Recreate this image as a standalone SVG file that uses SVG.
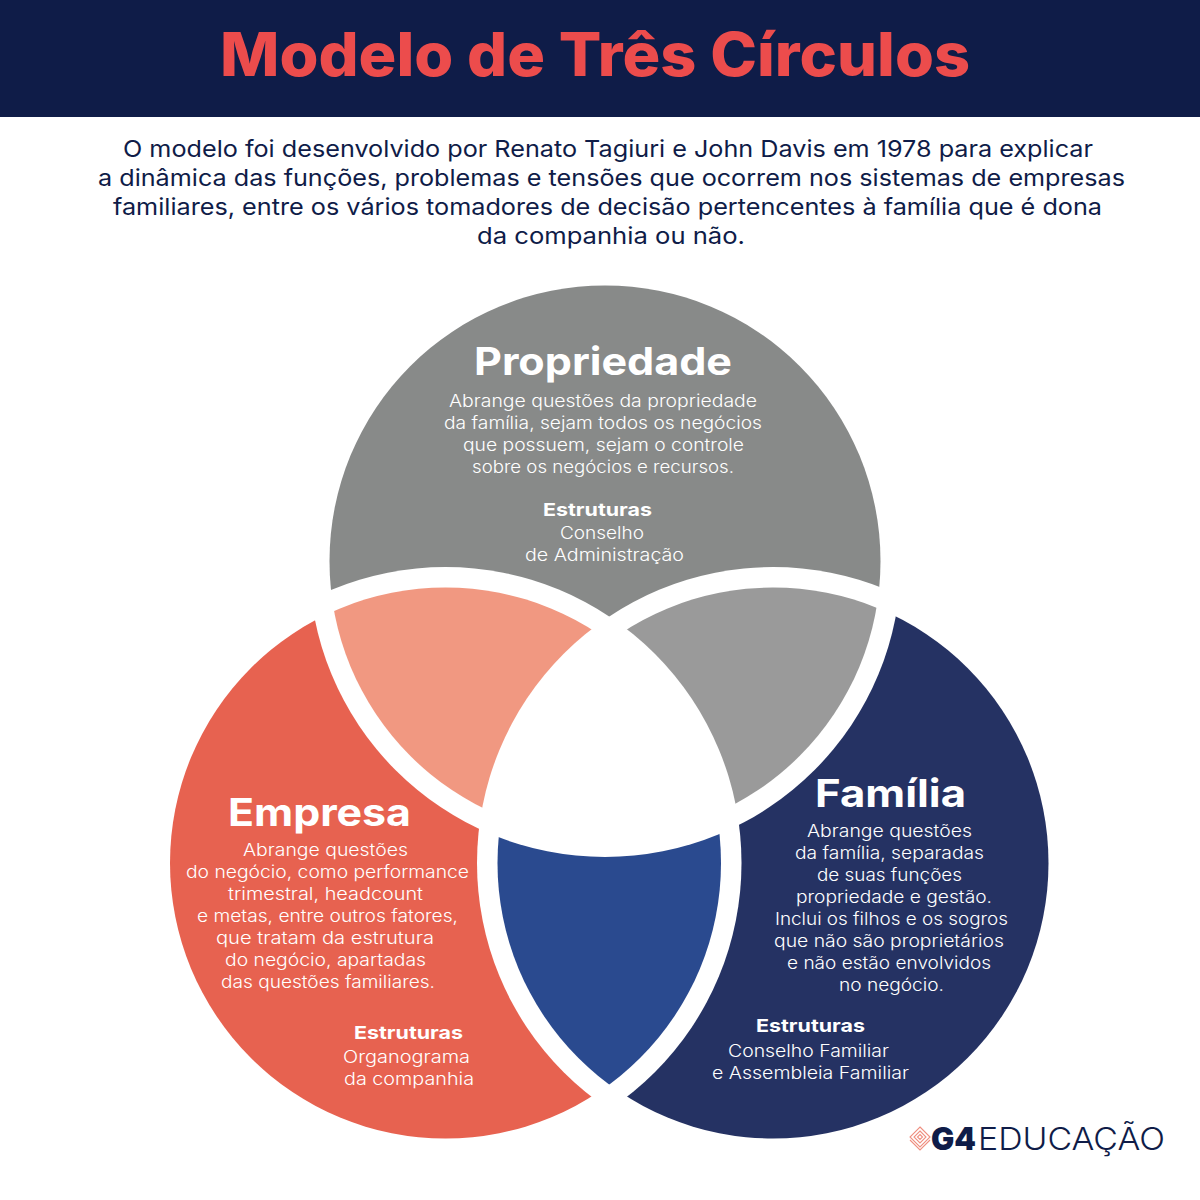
<svg xmlns="http://www.w3.org/2000/svg" width="1200" height="1200" viewBox="0 0 1200 1200">
<style>
text{font-family:"Inter","Noto Sans",sans-serif;}
.w{fill:#fff}
.h{font-size:38px;font-weight:700}
.b{font-size:17px;font-weight:300}
.s{font-size:18px;font-weight:700}
.i{font-size:23px;fill:#0f1c48}
.d{fill:none;stroke:#ef8f80;stroke-width:1.1}
</style>
<defs>
<clipPath id="cT"><circle cx="605" cy="561" r="275.500"/></clipPath>
<clipPath id="cR"><circle cx="773" cy="863" r="275.500"/></clipPath>
<mask id="noLR" maskUnits="userSpaceOnUse" x="0" y="0" width="1200" height="1200"><rect width="1200" height="1200" fill="#fff"/><circle cx="445.500" cy="863" r="296"/><circle cx="773" cy="863" r="296"/></mask>
<mask id="noTR" maskUnits="userSpaceOnUse" x="0" y="0" width="1200" height="1200"><rect width="1200" height="1200" fill="#fff"/><circle cx="605" cy="561" r="296"/><circle cx="773" cy="863" r="296"/></mask>
<mask id="noTL" maskUnits="userSpaceOnUse" x="0" y="0" width="1200" height="1200"><rect width="1200" height="1200" fill="#fff"/><circle cx="605" cy="561" r="296"/><circle cx="445.500" cy="863" r="296"/></mask>
<mask id="noT" maskUnits="userSpaceOnUse" x="0" y="0" width="1200" height="1200"><rect width="1200" height="1200" fill="#fff"/><circle cx="605" cy="561" r="296"/></mask>
<mask id="noL" maskUnits="userSpaceOnUse" x="0" y="0" width="1200" height="1200"><rect width="1200" height="1200" fill="#fff"/><circle cx="445.500" cy="863" r="296"/></mask>
<mask id="noRr" maskUnits="userSpaceOnUse" x="0" y="0" width="1200" height="1200"><rect width="1200" height="1200" fill="#fff"/><circle cx="773" cy="863" r="296"/></mask>
</defs>
<rect width="1200" height="1200" fill="#fff"/>
<g id="header">
<rect width="1200" height="117" fill="#0f1c48"/>
<text x="220" y="76" font-size="60" font-weight="800" fill="#ec4c4c" textLength="750" lengthAdjust="spacingAndGlyphs">Modelo de Três Círculos</text>
</g>
<g id="intro">
<text class="i" x="123" y="157" textLength="970" lengthAdjust="spacingAndGlyphs">O modelo foi desenvolvido por Renato Tagiuri e John Davis em 1978 para explicar</text>
<text class="i" x="98" y="186" textLength="1027" lengthAdjust="spacingAndGlyphs">a dinâmica das funções, problemas e tensões que ocorrem nos sistemas de empresas</text>
<text class="i" x="113" y="215" textLength="989" lengthAdjust="spacingAndGlyphs">familiares, entre os vários tomadores de decisão pertencentes à família que é dona</text>
<text class="i" x="477" y="244" textLength="268" lengthAdjust="spacingAndGlyphs">da companhia ou não.</text>
</g>
<g id="overlaps">
<g clip-path="url(#cT)"><circle id="overlap-propriedade-empresa" cx="445.500" cy="863" r="275.500" fill="#f19881" mask="url(#noRr)"/></g>
<g clip-path="url(#cT)"><circle id="overlap-propriedade-familia" cx="773" cy="863" r="275.500" fill="#9a9a9a" mask="url(#noL)"/></g>
<g clip-path="url(#cR)"><circle id="overlap-empresa-familia" cx="445.500" cy="863" r="275.500" fill="#2a4a8f" mask="url(#noT)"/></g>
</g>
<g id="propriedade">
<circle cx="605" cy="561" r="275.500" fill="#888a89" mask="url(#noLR)"/>
<text class="h w" x="474" y="375" textLength="258" lengthAdjust="spacingAndGlyphs">Propriedade</text>
<text class="b w" x="449" y="407" textLength="308" lengthAdjust="spacingAndGlyphs">Abrange questões da propriedade</text>
<text class="b w" x="444" y="429" textLength="318" lengthAdjust="spacingAndGlyphs">da família, sejam todos os negócios</text>
<text class="b w" x="463" y="451" textLength="281" lengthAdjust="spacingAndGlyphs">que possuem, sejam o controle</text>
<text class="b w" x="472" y="473" textLength="262" lengthAdjust="spacingAndGlyphs">sobre os negócios e recursos.</text>
<text class="s w" x="543" y="516" textLength="109" lengthAdjust="spacingAndGlyphs">Estruturas</text>
<text class="b w" x="560" y="539" textLength="84" lengthAdjust="spacingAndGlyphs">Conselho</text>
<text class="b w" x="525" y="561" textLength="159" lengthAdjust="spacingAndGlyphs">de Administração</text>
</g>
<g id="empresa">
<circle cx="445.500" cy="863" r="275.500" fill="#e76250" mask="url(#noTR)"/>
<text class="h w" x="228" y="826" textLength="183" lengthAdjust="spacingAndGlyphs">Empresa</text>
<text class="b w" x="243" y="856" textLength="165" lengthAdjust="spacingAndGlyphs">Abrange questões</text>
<text class="b w" x="186" y="878" textLength="283" lengthAdjust="spacingAndGlyphs">do negócio, como performance</text>
<text class="b w" x="228" y="900" textLength="195" lengthAdjust="spacingAndGlyphs">trimestral, headcount</text>
<text class="b w" x="197" y="922" textLength="261" lengthAdjust="spacingAndGlyphs">e metas, entre outros fatores,</text>
<text class="b w" x="216" y="944" textLength="218" lengthAdjust="spacingAndGlyphs">que tratam da estrutura</text>
<text class="b w" x="225" y="966" textLength="201" lengthAdjust="spacingAndGlyphs">do negócio, apartadas</text>
<text class="b w" x="221" y="988" textLength="214" lengthAdjust="spacingAndGlyphs">das questões familiares.</text>
<text class="s w" x="354" y="1039" textLength="109" lengthAdjust="spacingAndGlyphs">Estruturas</text>
<text class="b w" x="343" y="1063" textLength="127" lengthAdjust="spacingAndGlyphs">Organograma</text>
<text class="b w" x="344" y="1085" textLength="130" lengthAdjust="spacingAndGlyphs">da companhia</text>
</g>
<g id="familia">
<circle cx="773" cy="863" r="275.500" fill="#253263" mask="url(#noTL)"/>
<text class="h w" x="815" y="807" textLength="151" lengthAdjust="spacingAndGlyphs">Família</text>
<text class="b w" x="807" y="837" textLength="165" lengthAdjust="spacingAndGlyphs">Abrange questões</text>
<text class="b w" x="795" y="859" textLength="189" lengthAdjust="spacingAndGlyphs">da família, separadas</text>
<text class="b w" x="817" y="881" textLength="145" lengthAdjust="spacingAndGlyphs">de suas funções</text>
<text class="b w" x="796" y="903" textLength="196" lengthAdjust="spacingAndGlyphs">propriedade e gestão.</text>
<text class="b w" x="775" y="925" textLength="233" lengthAdjust="spacingAndGlyphs">Inclui os filhos e os sogros</text>
<text class="b w" x="774" y="947" textLength="230" lengthAdjust="spacingAndGlyphs">que não são proprietários</text>
<text class="b w" x="787" y="969" textLength="204" lengthAdjust="spacingAndGlyphs">e não estão envolvidos</text>
<text class="b w" x="839" y="991" textLength="105" lengthAdjust="spacingAndGlyphs">no negócio.</text>
<text class="s w" x="756" y="1032" textLength="109" lengthAdjust="spacingAndGlyphs">Estruturas</text>
<text class="b w" x="728" y="1057" textLength="161" lengthAdjust="spacingAndGlyphs">Conselho Familiar</text>
<text class="b w" x="712" y="1079" textLength="197" lengthAdjust="spacingAndGlyphs">e Assembleia Familiar</text>
</g>
<g id="logo">
<path class="d" d="M920 1127L930 1137L920 1147L910 1137Z"/>
<path class="d" d="M920 1131L926 1137L920 1143L914 1137Z"/>
<path class="d" d="M920 1134.500L922.500 1137L920 1139.500L917.500 1137Z"/>
<path class="d" d="M910 1140L920 1150L930 1140"/>
<text x="931" y="1150" font-size="31" font-weight="900" fill="#0f1c48" textLength="45" lengthAdjust="spacingAndGlyphs">G4</text>
<text x="978" y="1150" font-size="31" font-weight="300" fill="#0f1c48" textLength="187" lengthAdjust="spacingAndGlyphs">EDUCAÇÃO</text>
</g>
</svg>
